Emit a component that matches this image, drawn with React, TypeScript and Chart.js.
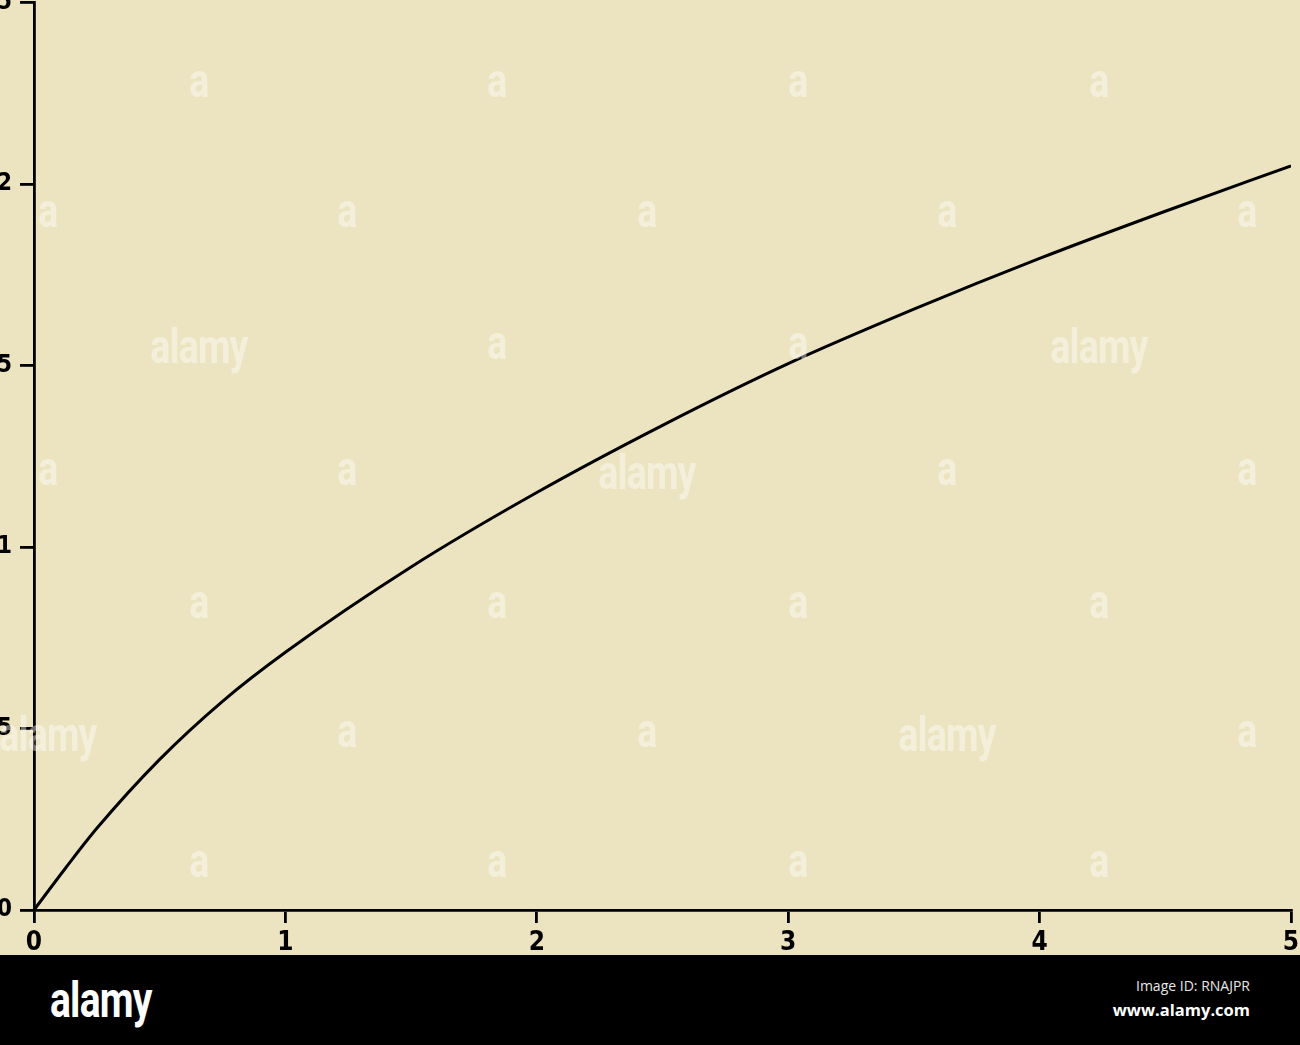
import React, { useEffect, useRef } from "react";
import { Chart, registerables } from "chart.js";

Chart.register(...registerables);

// ---- data ----
const xValues = [0, 0.125, 0.25, 0.5, 0.75, 1, 1.5, 2, 2.5, 3, 3.5, 4, 4.5, 5];
const yValues = [0, 0.115, 0.225, 0.415, 0.575, 0.71, 0.945, 1.15, 1.335, 1.505, 1.655, 1.795, 1.925, 2.05];
const xTickValues = [0, 1, 2, 3, 4, 5];
const yTickValues = [0, 0.5, 1, 1.5, 2, 2.5];

// watermark grid (text only)
const wmRowsY = [85, 215, 347, 473, 606, 735, 865];
const wmOddX = [199, 497, 798, 1099];
const wmEvenX = [48, 347, 647, 947, 1247];
const wmWordCells = ["2-0", "2-3", "3-2", "5-0", "5-3"];

const BG = "#ece4c1";
const L = 30; // canvas offset left (clips the y labels like the scan)
const T = 20; // canvas offset top
const CANVAS_W = 1350;
const CANVAS_H = 975;

const tickFont = "'DejaVu Sans Condensed', 'DejaVu Sans', sans-serif";

function App() {
  const canvasRef = useRef<HTMLCanvasElement | null>(null);

  useEffect(() => {
    document.body.style.margin = "0";
    const ctx = canvasRef.current;
    if (!ctx) return;
    const chart = new Chart(ctx, {
      type: "line",
      data: {
        datasets: [
          {
            data: xValues.map((x, i) => ({ x, y: yValues[i] })),
            borderColor: "#000",
            borderWidth: 3,
            pointRadius: 0,
            fill: false,
            cubicInterpolationMode: "monotone",
          },
        ],
      },
      options: {
        animation: false,
        responsive: false,
        devicePixelRatio: 1,
        layout: { padding: { top: T + 2.5, right: CANVAS_W - (1291 + L), left: 0, bottom: 0 } },
        plugins: { legend: { display: false }, tooltip: { enabled: false } },
        scales: {
          x: {
            type: "linear",
            min: 0,
            max: 5,
            afterBuildTicks: (s: any) => {
              s.ticks = xTickValues.map((v) => ({ value: v }));
            },
            afterFit: (s: any) => {
              s.height = CANVAS_H - (910 + T);
            },
            ticks: {
              color: "#000",
              padding: 7,
              maxRotation: 0,
              autoSkip: false,
              font: { family: tickFont, size: 26, weight: "bold", lineHeight: 1 },
              callback: (v: any) => String(v),
            },
            grid: {
              drawOnChartArea: false,
              drawTicks: true,
              tickLength: 13,
              color: "#000",
              lineWidth: 2.8,
            },
            border: { display: true, color: "#000", width: 2.8 },
          },
          y: {
            type: "linear",
            min: 0,
            max: 2.5,
            afterBuildTicks: (s: any) => {
              s.ticks = yTickValues.map((v) => ({ value: v }));
            },
            afterFit: (s: any) => {
              s.width = 34 + L;
            },
            ticks: {
              color: "#000",
              padding: 8,
              autoSkip: false,
              font: { family: tickFont, size: 24, weight: "bold", lineHeight: 1 },
              callback: (v: any) => String(v),
            },
            grid: {
              drawOnChartArea: false,
              drawTicks: true,
              tickLength: 14,
              color: "#000",
              lineWidth: 2.8,
            },
            border: { display: true, color: "#000", width: 2.8 },
          },
        },
      },
    });
    return () => chart.destroy();
  }, []);

  const wmStyle: React.CSSProperties = {
    position: "absolute",
    fontFamily: "Roboto, 'DejaVu Sans', sans-serif",
    fontWeight: 700,
    fontSize: 48,
    lineHeight: "48px",
    color: "rgba(255,255,255,0.42)",
    transform: "translate(-50%, -50%) scaleX(0.78)",
    letterSpacing: -1,
    pointerEvents: "none",
    whiteSpace: "nowrap",
  };

  const marks: React.ReactNode[] = [];
  wmRowsY.forEach((y, r) => {
    const xs = r % 2 === 0 ? wmOddX : wmEvenX;
    xs.forEach((x, c) => {
      const word = wmWordCells.includes(`${r}-${c}`);
      marks.push(
        <div key={`${r}-${c}`} style={{ ...wmStyle, left: x, top: word ? y : y - 4 }}>
          {word ? "alamy" : "a"}
        </div>
      );
    });
  });

  return (
    <div style={{ position: "absolute", left: 0, top: 0, width: 1300, height: 1045, background: BG, overflow: "hidden" }}>
      <div style={{ position: "absolute", left: 0, top: 0, width: 1300, height: 955, overflow: "hidden", background: BG }}>
        <canvas
          ref={canvasRef}
          width={CANVAS_W}
          height={CANVAS_H}
          style={{ position: "absolute", left: -L, top: -T, width: CANVAS_W, height: CANVAS_H }}
        />
        {marks}
      </div>
      <div style={{ position: "absolute", left: 0, top: 955, width: 1300, height: 90, background: "#000" }}>
        <div
          style={{
            position: "absolute",
            left: 50,
            top: 20,
            fontFamily: "Roboto, 'DejaVu Sans', sans-serif",
            fontWeight: 700,
            fontSize: 50,
            lineHeight: "50px",
            color: "#fff",
            letterSpacing: -1,
            transform: "scaleX(0.78)",
            transformOrigin: "left top",
          }}
        >
          alamy
        </div>
        <div
          style={{
            position: "absolute",
            right: 50,
            top: 22,
            fontFamily: "'Open Sans', 'Noto Sans', sans-serif",
            fontSize: 14,
            lineHeight: "18px",
            color: "#e8e8e8",
            textAlign: "right",
          }}
        >
          Image ID: RNAJPR
        </div>
        <div
          style={{
            position: "absolute",
            right: 50,
            top: 44,
            fontFamily: "'Open Sans', 'Noto Sans', sans-serif",
            fontWeight: 700,
            fontSize: 16.5,
            lineHeight: "22px",
            color: "#fff",
            textAlign: "right",
          }}
        >
          www.alamy.com
        </div>
      </div>
    </div>
  );
}

export default App;
